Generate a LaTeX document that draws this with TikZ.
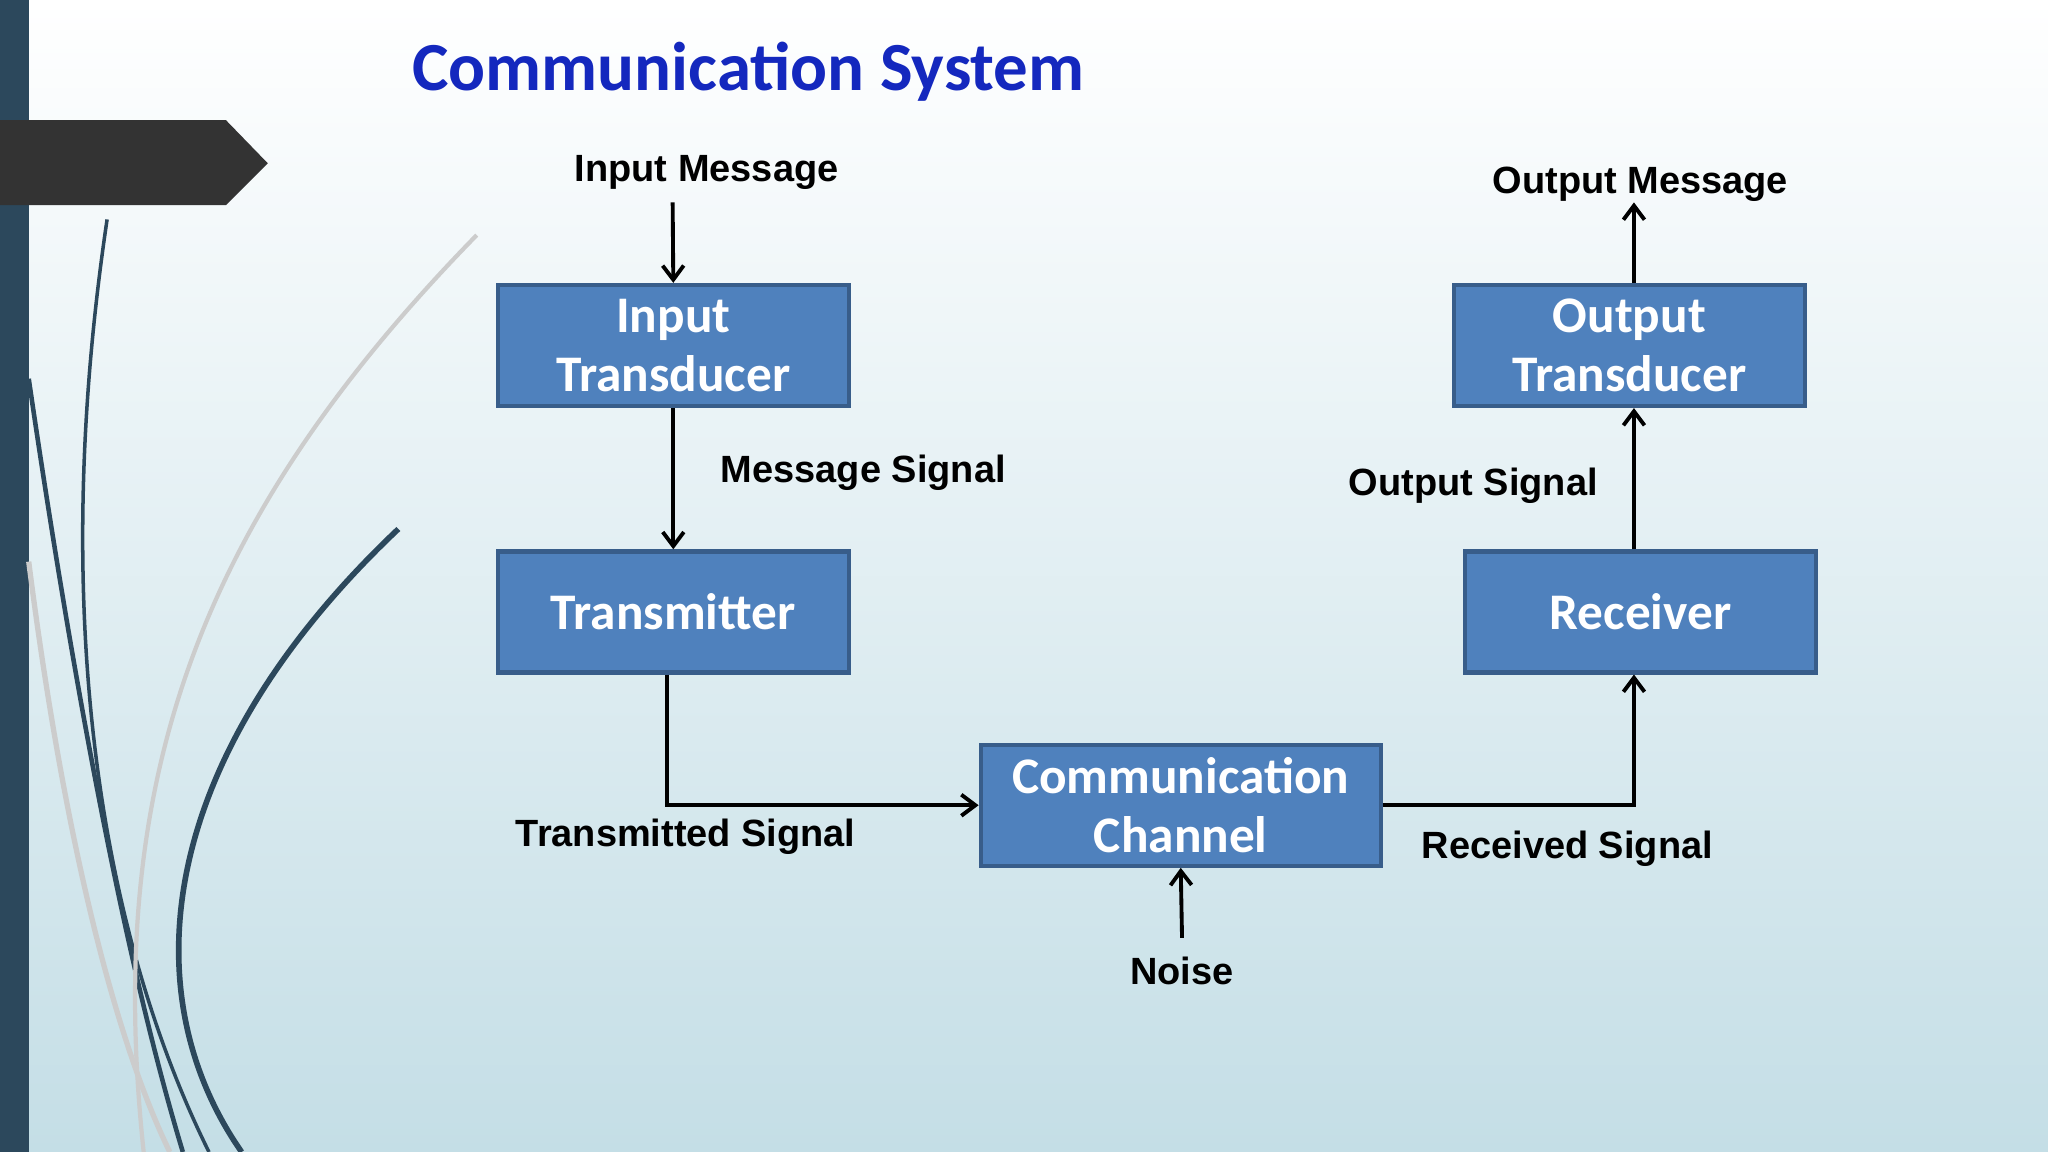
\documentclass[tikz,border=0pt]{standalone}
\usepackage{fontspec}
\setmainfont{Liberation Sans}
\newfontfamily\calfont{Carlito}
\usetikzlibrary{arrows.meta}
\definecolor{boxblue}{RGB}{79,129,189}
\definecolor{boxedge}{RGB}{56,93,138}
\definecolor{titleblue}{RGB}{20,40,190}
\definecolor{bgblue}{RGB}{196,222,230}
\definecolor{bardark}{RGB}{44,72,92}
\begin{document}
\begin{tikzpicture}[x=0.013061cm, y=-0.013061cm,
  box/.style={rectangle, draw=boxedge, line width=1.2pt, fill=boxblue,
    text=white, font=\calfont\bfseries\fontsize{14.6}{17}\selectfont,
    align=center, minimum width=3.51cm, minimum height=1.21cm, inner sep=1pt},
  lab/.style={font=\bfseries\fontsize{10.8}{12}\selectfont, text=black, inner sep=1pt},
  arr/.style={-{Straight Barb[length=4pt,width=6pt]}, line width=1.1pt}]
\useasboundingbox (0,0) rectangle (1568,882);
\shade[top color=white, bottom color=bgblue] (0,0) rectangle (1568,882);
% decoration
\fill[bardark] (0,0) rectangle (22,882);
\fill[black!80] (0,92) -- (173,92) -- (205,125) -- (173,157) -- (0,157) -- cycle;
\draw[bardark, line width=1pt] (82,168) .. controls (40,450) and (70,700) .. (160,882);
\draw[bardark, line width=1.3pt] (22,290) .. controls (60,550) and (100,750) .. (140,882);
\draw[bardark, line width=1.6pt] (305,405) .. controls (120,580) and (100,760) .. (185,882);
\draw[gray!40, line width=1.2pt] (365,180) .. controls (150,400) and (80,600) .. (110,882);
\draw[gray!40, line width=1.5pt] (22,430) .. controls (50,650) and (90,800) .. (130,882);
% title
\node[anchor=west, font=\calfont\bfseries\fontsize{19.6}{23}\selectfont, text=titleblue, inner sep=0pt] (title) at (315,55) {Communication System};
% boxes
\node[box] (itr) at (515.5,264.5) {Input\\Transducer};
\node[box] (tx) at (515.5,468.5) {Transmitter};
\node[box, minimum width=4.0cm] (ch) at (904,616.5) {Communication\\Channel};
\node[box] (rx) at (1256,468.5) {Receiver};
\node[box] (otr) at (1247.5,264.5) {Output\\Transducer};
% labels
\node[lab] (im) at (541,132) {Input Message};
\node[lab] (om) at (1256,141) {Output Message};
\node[lab] (ms) at (661,362) {Message Signal};
\node[lab] (os) at (1128,372) {Output Signal};
\node[lab] (ts) at (525,641) {Transmitted Signal};
\node[lab] (rs) at (1200,650) {Received Signal};
\node[lab] (nz) at (905,743) {Noise};
\coordinate (imend) at (515,155);
\coordinate (omend) at (1251,155);
\coordinate (nzend) at (905,718);
% connectors
\draw[arr] (imend) -- (itr.north);
\draw[arr] (itr.south) -- (tx.north);
\draw[arr] (tx.south -| 511,0) |- (ch.west);
\draw[arr] (ch.east) -| (rx.south -| 1251,0);
\draw[arr] (rx.north -| 1251,0) -- (otr.south -| 1251,0);
\draw[arr] (otr.north -| 1251,0) -- (omend);
\draw[arr] (nzend) -- (ch.south);
\end{tikzpicture}
\end{document}
